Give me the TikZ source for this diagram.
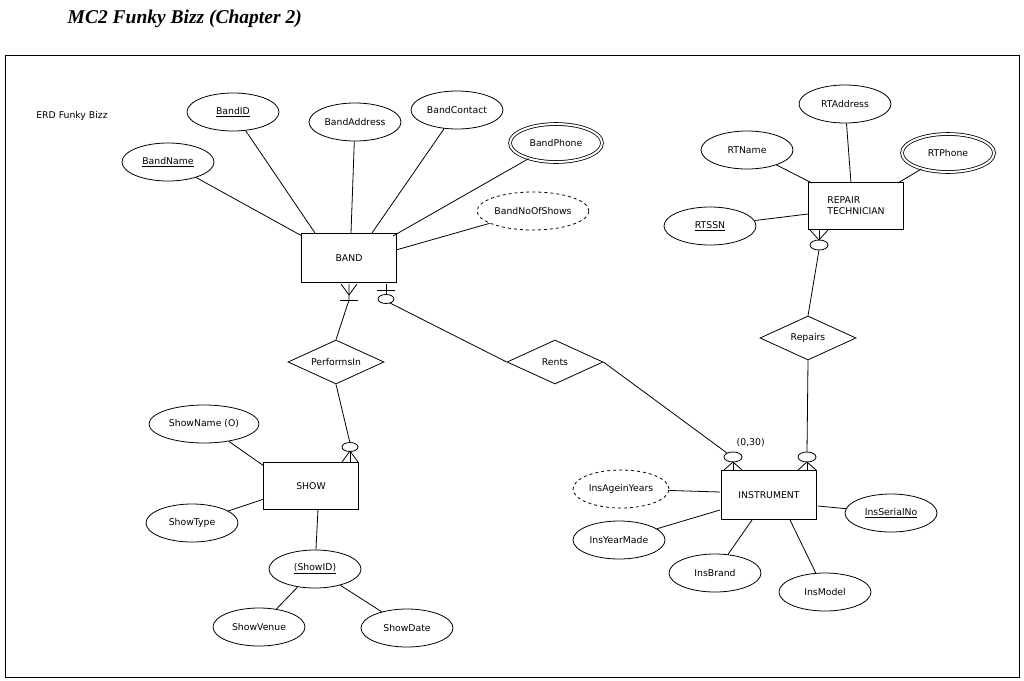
\documentclass[tikz,border=0pt]{standalone}
\usepackage{fontspec}
\setmainfont{DejaVu Sans}
\newfontfamily\titlefont{Liberation Serif}
\usetikzlibrary{shapes.geometric}
\begin{document}
\begin{tikzpicture}[x=1pt,y=-1pt,line width=0.8pt,
  every node/.style={font=\fontsize{9.3}{11}\selectfont},
  att/.style={ellipse,draw,minimum width=92,minimum height=38,inner sep=1pt},
  datt/.style={att,dashed},
  matt/.style={att,double,double distance=2pt},
  ent/.style={rectangle,draw,minimum width=95,minimum height=49,align=left},
  rel/.style={diamond,draw,aspect=2.2,minimum width=96,minimum height=44,inner sep=0pt}]
\useasboundingbox (0,0) rectangle (1024,680);
\draw[line width=1pt] (5,55) rectangle (1019,677);
\node[anchor=west,font=\titlefont\bfseries\itshape\fontsize{19.5}{22}\selectfont] (title) at (64,19) {MC2 Funky Bizz (Chapter 2)};
\node (erd) at (72,116) {ERD Funky Bizz};
% BAND
\node[ent] (band) at (349,258) {BAND};
\node[att] (bandid) at (233,112) {\underline{BandID}};
\node[att] (baddr) at (355,122) {BandAddress};
\node[att] (bcont) at (457,110) {BandContact};
\node[matt] (bphone) at (556,143) {BandPhone};
\node[att] (bname) at (168,162) {\underline{BandName}};
\node[datt] (bshows) at (533,211) {BandNoOfShows};
\draw (bandid) -- (315,233);
\draw (baddr) -- (351,233);
\draw (bcont) -- (372,233);
\draw (bphone) -- (393,236);
\draw (bname) -- (302,236);
\draw (bshows) -- (396,250);
% relationships
\node[rel] (perf) at (336,362) {PerformsIn};
\node[rel] (rents) at (555,362) {Rents};
\node[rel] (repairs) at (808,338) {Repairs};
% SHOW
\node[ent,minimum height=47] (show) at (311,486) {SHOW};
\node[att,minimum width=110] (sname) at (204,424) {ShowName (O)};
\node[att] (stype) at (192,523) {ShowType};
\node[att] (sid) at (315,569) {\underline{(ShowID)}};
\node[att] (svenue) at (259,627) {ShowVenue};
\node[att] (sdate) at (407,628) {ShowDate};
\draw (sname) -- (264,466);
\draw (stype) -- (264,499);
\draw (sid) -- (318,509);
\draw (sid) -- (svenue);
\draw (sid) -- (sdate);
% REPAIR TECHNICIAN
\node[ent,minimum height=47] (rt) at (856,206) {REPAIR\\TECHNICIAN};
\node[att] (rtaddr) at (845,104) {RTAddress};
\node[att] (rtname) at (747,150) {RTName};
\node[matt] (rtphone) at (948,153) {RTPhone};
\node[att] (rtssn) at (710,226) {\underline{RTSSN}};
\draw (rtaddr) -- (851,183);
\draw (rtname) -- (812,183);
\draw (rtphone) -- (898,183);
\draw (rtssn) -- (808,214);
% INSTRUMENT
\node[ent] (ins) at (769,495) {INSTRUMENT};
\node[datt,minimum width=96] (iage) at (621,489) {InsAgeinYears};
\node[att] (iserial) at (891,513) {\underline{InsSerialNo}};
\node[att] (iyear) at (619,540) {InsYearMade};
\node[att] (ibrand) at (715,573) {InsBrand};
\node[att] (imodel) at (825,592) {InsModel};
\draw (iage) -- (720,492);
\draw (iserial) -- (818,506);
\draw (iyear) -- (720,510);
\draw (ibrand) -- (752,520);
\draw (imodel) -- (790,520);
% BAND -- PerformsIn
\draw (341,284) -- (349,295) -- (357,284);
\draw (349,284) -- (349,300) -- (perf.north);
\draw (340,300) -- (358,300);
% BAND -- Rents (zero or one)
\draw (386,284) -- (386,294);
\draw (377,290) -- (395,290);
\draw (386,299) circle[x radius=8,y radius=4.5];
\coordinate (r1) at (390,303);
\draw (r1) -- (rents.west);
% PerformsIn -- SHOW
\draw (perf.south) -- (350,443);
\draw (350,447) circle[x radius=8,y radius=4.5];
\draw (342,462) -- (350,451) -- (358,462);
\draw (350,451) -- (350,462);
% Rents -- INSTRUMENT
\draw (rents.east) -- (727,453);
\draw (733,457) circle[x radius=9,y radius=5];
\draw (724,470) -- (733,462) -- (742,470);
\draw (733,462) -- (733,470);
\node[anchor=west] (lab) at (733,443) {(0,30)};
% Repairs -- INSTRUMENT
\draw (repairs.south) -- (807,452);
\draw (807,457) circle[x radius=9,y radius=5];
\draw (798,470) -- (807,462) -- (816,470);
\draw (807,462) -- (807,470);
% Repairs -- REPAIR TECHNICIAN
\draw (repairs.north) -- (819,250);
\draw (819,245) circle[x radius=9,y radius=5];
\draw (810,230) -- (819,240) -- (828,230);
\draw (819,230) -- (819,240);
\end{tikzpicture}
\end{document}
